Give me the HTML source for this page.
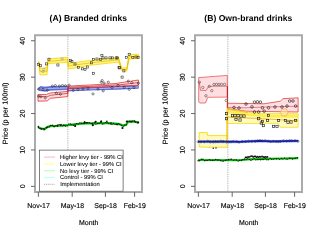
<!DOCTYPE html>
<html><head><meta charset="utf-8"><style>html,body{margin:0;padding:0;background:#fff;width:320px;height:236px;overflow:hidden}svg{display:block;will-change:transform;font-family:"Liberation Sans",sans-serif}text{stroke:#000;stroke-width:0.14px;paint-order:stroke}text[font-weight]{stroke-width:0}</style></head>
<body><svg width="320" height="236" viewBox="0 0 320 236" font-family="Liberation Sans, sans-serif" fill="#000"><line x1="67.9" y1="35.4" x2="67.9" y2="192.1" stroke="#999" stroke-width="0.75" stroke-dasharray="1 0.8"/><line x1="227.9" y1="35.4" x2="227.9" y2="192.1" stroke="#999" stroke-width="0.75" stroke-dasharray="1 0.8"/><polygon points="38.60,61.30 40.30,68.20 46.90,67.80 47.90,58.80 55.00,58.30 65.00,57.60 67.70,57.40 68.30,63.40 90.00,60.50 118.60,57.60 121.80,67.90 126.90,67.90 129.00,54.30 138.70,54.30 138.70,58.50 129.00,59.00 126.90,70.90 122.10,70.90 118.60,62.00 90.00,65.30 68.30,69.00 67.70,62.30 65.00,62.50 48.00,63.60 46.90,74.90 40.00,74.90 38.60,62.80" fill="rgba(255,238,20,0.5)" stroke="#f0d800" stroke-width="0.8" stroke-linejoin="round"/><polyline points="38.70,62.00 40.20,71.50 46.90,71.30 47.90,61.50 67.70,59.70 68.30,66.00 90.00,62.90 118.60,59.80 122.00,69.40 126.90,69.40 129.00,56.70 138.70,56.90" fill="none" stroke="#eeb000" stroke-width="0.7" stroke-linejoin="round" opacity="1"/><polygon points="37.50,89.20 40.10,86.60 45.20,87.10 50.30,86.60 67.70,86.00 68.10,88.20 93.00,87.60 120.00,86.30 138.40,85.70 138.40,88.30 120.00,89.20 93.00,90.00 68.10,91.00 67.70,89.60 50.30,90.20 45.20,91.20 40.10,90.70 37.50,89.40" fill="rgba(50,70,215,0.72)" stroke="#2030b0" stroke-width="0.5" stroke-linejoin="round"/><polyline points="38.00,89.00 45.00,89.20 50.30,88.40 67.70,87.80 68.10,89.60 93.00,88.80 120.00,87.70 138.40,87.00" fill="none" stroke="#e0e4ff" stroke-width="0.6" stroke-linejoin="round" opacity="1"/><polygon points="38.00,94.40 46.20,94.60 50.30,93.00 67.70,91.40 68.10,86.10 90.00,85.00 115.00,83.60 138.40,80.00 138.40,85.20 115.00,86.40 90.00,87.40 68.10,88.60 67.70,96.60 50.30,98.30 47.20,100.90 38.00,101.20" fill="rgba(255,90,110,0.2)" stroke="#e02828" stroke-width="0.75" stroke-linejoin="round"/><polyline points="38.00,96.30 47.20,96.80 50.30,95.30 67.70,93.40 68.10,87.30 93.00,86.20 120.00,84.80 138.40,82.60" fill="none" stroke="#b00000" stroke-width="0.6" stroke-linejoin="round" opacity="1"/><polyline points="38.30,127.20 40.60,128.30 42.50,128.80 44.60,129.00 47.50,126.90 50.00,126.20 55.00,126.00 60.00,125.60 65.00,125.30 72.40,124.60 81.70,123.70 87.40,123.20 93.00,123.70 99.40,123.20 108.70,123.20 115.00,123.70 119.70,124.20 123.40,125.60 126.20,124.70 128.10,121.80 133.70,121.40 138.40,122.50" fill="none" stroke="#00c800" stroke-width="2.2" stroke-linejoin="round" opacity="1"/><circle cx="38.30" cy="126.54" r="0.7" fill="#111"/><circle cx="39.90" cy="128.59" r="0.7" fill="#111"/><circle cx="41.50" cy="129.01" r="0.7" fill="#111"/><circle cx="43.10" cy="128.42" r="0.7" fill="#111"/><circle cx="44.70" cy="128.92" r="0.7" fill="#111"/><circle cx="46.30" cy="127.68" r="0.7" fill="#111"/><circle cx="47.90" cy="127.06" r="0.7" fill="#111"/><circle cx="49.50" cy="126.86" r="0.7" fill="#111"/><circle cx="51.10" cy="125.42" r="0.7" fill="#111"/><circle cx="52.70" cy="125.24" r="0.7" fill="#111"/><circle cx="54.30" cy="126.63" r="0.7" fill="#111"/><circle cx="55.90" cy="125.81" r="0.7" fill="#111"/><circle cx="57.50" cy="126.27" r="0.7" fill="#111"/><circle cx="59.10" cy="124.78" r="0.7" fill="#111"/><circle cx="60.70" cy="125.46" r="0.7" fill="#111"/><circle cx="62.30" cy="125.86" r="0.7" fill="#111"/><circle cx="63.90" cy="124.88" r="0.7" fill="#111"/><circle cx="65.50" cy="126.05" r="0.7" fill="#111"/><circle cx="67.10" cy="125.82" r="0.7" fill="#111"/><circle cx="68.70" cy="124.11" r="0.7" fill="#111"/><circle cx="70.30" cy="123.94" r="0.7" fill="#111"/><circle cx="71.90" cy="124.72" r="0.7" fill="#111"/><circle cx="73.50" cy="125.28" r="0.7" fill="#111"/><circle cx="75.10" cy="124.12" r="0.7" fill="#111"/><circle cx="76.70" cy="123.67" r="0.7" fill="#111"/><circle cx="78.30" cy="123.89" r="0.7" fill="#111"/><circle cx="79.90" cy="123.03" r="0.7" fill="#111"/><circle cx="81.50" cy="123.22" r="0.7" fill="#111"/><circle cx="83.10" cy="123.47" r="0.7" fill="#111"/><circle cx="84.70" cy="123.43" r="0.7" fill="#111"/><circle cx="86.30" cy="122.82" r="0.7" fill="#111"/><circle cx="87.90" cy="122.76" r="0.7" fill="#111"/><circle cx="89.50" cy="122.88" r="0.7" fill="#111"/><circle cx="91.10" cy="123.46" r="0.7" fill="#111"/><circle cx="92.70" cy="123.29" r="0.7" fill="#111"/><circle cx="94.30" cy="122.74" r="0.7" fill="#111"/><circle cx="95.90" cy="124.08" r="0.7" fill="#111"/><circle cx="97.50" cy="123.45" r="0.7" fill="#111"/><circle cx="99.10" cy="123.48" r="0.7" fill="#111"/><circle cx="100.70" cy="122.63" r="0.7" fill="#111"/><circle cx="102.30" cy="124.09" r="0.7" fill="#111"/><circle cx="103.90" cy="123.85" r="0.7" fill="#111"/><circle cx="105.50" cy="122.52" r="0.7" fill="#111"/><circle cx="107.10" cy="122.90" r="0.7" fill="#111"/><circle cx="108.70" cy="123.60" r="0.7" fill="#111"/><circle cx="110.30" cy="123.71" r="0.7" fill="#111"/><circle cx="111.90" cy="124.24" r="0.7" fill="#111"/><circle cx="113.50" cy="123.44" r="0.7" fill="#111"/><circle cx="115.10" cy="124.30" r="0.7" fill="#111"/><circle cx="116.70" cy="124.19" r="0.7" fill="#111"/><circle cx="118.30" cy="123.70" r="0.7" fill="#111"/><circle cx="119.90" cy="124.43" r="0.7" fill="#111"/><circle cx="121.50" cy="125.57" r="0.7" fill="#111"/><circle cx="123.10" cy="126.11" r="0.7" fill="#111"/><circle cx="124.70" cy="125.19" r="0.7" fill="#111"/><circle cx="126.30" cy="124.71" r="0.7" fill="#111"/><circle cx="127.90" cy="121.27" r="0.7" fill="#111"/><circle cx="129.50" cy="121.24" r="0.7" fill="#111"/><circle cx="131.10" cy="122.12" r="0.7" fill="#111"/><circle cx="132.70" cy="121.32" r="0.7" fill="#111"/><circle cx="134.30" cy="120.95" r="0.7" fill="#111"/><circle cx="135.90" cy="122.00" r="0.7" fill="#111"/><circle cx="137.50" cy="122.65" r="0.7" fill="#111"/><circle cx="126.80" cy="121.60" r="1.0" fill="#111"/><circle cx="138.20" cy="122.60" r="1.0" fill="#111"/><circle cx="122.50" cy="128.00" r="1.0" fill="#111"/><circle cx="95.60" cy="121.80" r="1.0" fill="#111"/><circle cx="92.80" cy="125.30" r="1.0" fill="#111"/><circle cx="101.20" cy="121.40" r="1.0" fill="#111"/><circle cx="84.60" cy="122.30" r="1.0" fill="#111"/><circle cx="75.20" cy="126.00" r="1.0" fill="#111"/><polygon points="198.70,77.60 227.30,75.40 227.30,97.10 207.80,97.30 205.50,103.00 199.70,103.00 198.70,102.00" fill="rgba(255,90,110,0.2)" stroke="#e02828" stroke-width="0.6" stroke-linejoin="round"/><polyline points="199.30,81.90 200.40,90.30 206.10,90.50 208.60,86.30 226.40,86.20 227.40,86.20" fill="none" stroke="#b00000" stroke-width="0.6" stroke-linejoin="round" opacity="0.75"/><polyline points="227.40,86.20 227.40,107.30" fill="none" stroke="#b00000" stroke-width="0.8" stroke-linejoin="round" opacity="1"/><polygon points="227.30,103.20 264.00,103.80 280.30,101.20 282.90,98.70 298.10,97.80 298.10,112.00 264.00,111.50 246.00,111.20 227.30,108.70" fill="rgba(255,90,110,0.2)" stroke="#e02828" stroke-width="0.7" stroke-linejoin="round"/><polyline points="227.30,107.50 246.00,107.80 264.00,107.00 298.10,106.20" fill="none" stroke="#b02030" stroke-width="0.6" stroke-linejoin="round" opacity="0.8"/><polygon points="199.10,132.60 207.20,132.60 207.70,135.60 227.30,135.60 227.30,147.30 207.20,147.30 199.10,146.80" fill="rgba(255,240,60,0.34)" stroke="#f0d800" stroke-width="0.8" stroke-linejoin="round"/><polygon points="227.30,108.70 248.00,112.30 265.00,113.60 298.10,113.70 298.10,127.30 280.50,127.30 278.00,123.30 227.30,123.50" fill="rgba(255,240,60,0.32)" stroke="#f0d800" stroke-width="0.7" stroke-linejoin="round"/><polyline points="227.80,111.50 248.00,114.50 265.00,115.80 298.10,116.20" fill="none" stroke="rgba(250,225,0,0.55)" stroke-width="3.2" stroke-linejoin="round" opacity="1"/><polyline points="227.30,109.30 248.00,112.60" fill="none" stroke="#f0a000" stroke-width="0.5" stroke-linejoin="round" opacity="1"/><polyline points="199.00,141.20 227.10,141.20 227.10,117.00 248.00,118.00 260.00,118.60 298.10,120.80" fill="none" stroke="#f0a800" stroke-width="0.8" stroke-linejoin="round" opacity="1"/><polyline points="227.10,110.00 227.10,141.00" fill="none" stroke="#f0d000" stroke-width="1.0" stroke-linejoin="round" opacity="1"/><polyline points="198.00,141.60 227.00,141.70 240.00,141.80 258.80,140.90 271.90,141.40 298.30,140.90" fill="none" stroke="#8090f0" stroke-width="3.0" stroke-linejoin="round" opacity="0.6"/><polyline points="198.00,141.60 227.00,141.70 240.00,141.80 258.80,140.90 271.90,141.40 298.30,140.90" fill="none" stroke="#1428c0" stroke-width="1.7" stroke-linejoin="round" opacity="1"/><circle cx="198.00" cy="141.72" r="1.0" fill="none" stroke="#1a1a50" stroke-width="0.45"/><circle cx="201.06" cy="141.91" r="1.0" fill="none" stroke="#1a1a50" stroke-width="0.45"/><circle cx="204.39" cy="141.86" r="1.0" fill="none" stroke="#1a1a50" stroke-width="0.45"/><circle cx="207.69" cy="141.16" r="1.0" fill="none" stroke="#1a1a50" stroke-width="0.45"/><circle cx="210.39" cy="142.09" r="1.0" fill="none" stroke="#1a1a50" stroke-width="0.45"/><circle cx="213.34" cy="142.05" r="1.0" fill="none" stroke="#1a1a50" stroke-width="0.45"/><circle cx="215.58" cy="141.63" r="1.0" fill="none" stroke="#1a1a50" stroke-width="0.45"/><circle cx="218.01" cy="141.71" r="1.0" fill="none" stroke="#1a1a50" stroke-width="0.45"/><circle cx="220.85" cy="141.19" r="1.0" fill="none" stroke="#1a1a50" stroke-width="0.45"/><circle cx="223.23" cy="141.47" r="1.0" fill="none" stroke="#1a1a50" stroke-width="0.45"/><circle cx="226.52" cy="141.96" r="1.0" fill="none" stroke="#1a1a50" stroke-width="0.45"/><circle cx="228.83" cy="142.01" r="1.0" fill="none" stroke="#1a1a50" stroke-width="0.45"/><circle cx="231.11" cy="141.85" r="1.0" fill="none" stroke="#1a1a50" stroke-width="0.45"/><circle cx="233.38" cy="141.25" r="1.0" fill="none" stroke="#1a1a50" stroke-width="0.45"/><circle cx="236.61" cy="141.48" r="1.0" fill="none" stroke="#1a1a50" stroke-width="0.45"/><circle cx="238.99" cy="142.27" r="1.0" fill="none" stroke="#1a1a50" stroke-width="0.45"/><circle cx="242.22" cy="141.48" r="1.0" fill="none" stroke="#1a1a50" stroke-width="0.45"/><circle cx="245.57" cy="141.57" r="1.0" fill="none" stroke="#1a1a50" stroke-width="0.45"/><circle cx="248.56" cy="141.10" r="1.0" fill="none" stroke="#1a1a50" stroke-width="0.45"/><circle cx="251.88" cy="141.42" r="1.0" fill="none" stroke="#1a1a50" stroke-width="0.45"/><circle cx="255.23" cy="141.46" r="1.0" fill="none" stroke="#1a1a50" stroke-width="0.45"/><circle cx="257.72" cy="140.81" r="1.0" fill="none" stroke="#1a1a50" stroke-width="0.45"/><circle cx="260.04" cy="140.59" r="1.0" fill="none" stroke="#1a1a50" stroke-width="0.45"/><circle cx="262.22" cy="140.83" r="1.0" fill="none" stroke="#1a1a50" stroke-width="0.45"/><circle cx="265.11" cy="140.64" r="1.0" fill="none" stroke="#1a1a50" stroke-width="0.45"/><circle cx="268.09" cy="141.09" r="1.0" fill="none" stroke="#1a1a50" stroke-width="0.45"/><circle cx="270.59" cy="141.67" r="1.0" fill="none" stroke="#1a1a50" stroke-width="0.45"/><circle cx="273.32" cy="141.19" r="1.0" fill="none" stroke="#1a1a50" stroke-width="0.45"/><circle cx="276.04" cy="141.53" r="1.0" fill="none" stroke="#1a1a50" stroke-width="0.45"/><circle cx="278.22" cy="141.76" r="1.0" fill="none" stroke="#1a1a50" stroke-width="0.45"/><circle cx="280.35" cy="141.49" r="1.0" fill="none" stroke="#1a1a50" stroke-width="0.45"/><circle cx="283.54" cy="140.70" r="1.0" fill="none" stroke="#1a1a50" stroke-width="0.45"/><circle cx="286.67" cy="140.99" r="1.0" fill="none" stroke="#1a1a50" stroke-width="0.45"/><circle cx="289.52" cy="140.58" r="1.0" fill="none" stroke="#1a1a50" stroke-width="0.45"/><circle cx="291.68" cy="140.71" r="1.0" fill="none" stroke="#1a1a50" stroke-width="0.45"/><circle cx="295.02" cy="140.66" r="1.0" fill="none" stroke="#1a1a50" stroke-width="0.45"/><circle cx="298.11" cy="141.33" r="1.0" fill="none" stroke="#1a1a50" stroke-width="0.45"/><polyline points="198.10,160.00 240.00,160.20 250.00,159.30 270.00,158.80 283.00,158.50 298.30,158.10" fill="none" stroke="#00c800" stroke-width="2.1" stroke-linejoin="round" opacity="1"/><circle cx="198.10" cy="160.82" r="0.7" fill="#111"/><circle cx="199.70" cy="160.81" r="0.7" fill="#111"/><circle cx="201.30" cy="159.22" r="0.7" fill="#111"/><circle cx="202.90" cy="159.28" r="0.7" fill="#111"/><circle cx="204.50" cy="160.63" r="0.7" fill="#111"/><circle cx="206.10" cy="160.46" r="0.7" fill="#111"/><circle cx="207.70" cy="160.35" r="0.7" fill="#111"/><circle cx="209.30" cy="159.71" r="0.7" fill="#111"/><circle cx="210.90" cy="160.25" r="0.7" fill="#111"/><circle cx="212.50" cy="160.26" r="0.7" fill="#111"/><circle cx="214.10" cy="160.22" r="0.7" fill="#111"/><circle cx="215.70" cy="159.47" r="0.7" fill="#111"/><circle cx="217.30" cy="159.97" r="0.7" fill="#111"/><circle cx="218.90" cy="159.91" r="0.7" fill="#111"/><circle cx="220.50" cy="160.51" r="0.7" fill="#111"/><circle cx="222.10" cy="161.01" r="0.7" fill="#111"/><circle cx="223.70" cy="160.93" r="0.7" fill="#111"/><circle cx="225.30" cy="160.21" r="0.7" fill="#111"/><circle cx="226.90" cy="160.04" r="0.7" fill="#111"/><circle cx="228.50" cy="159.73" r="0.7" fill="#111"/><circle cx="230.10" cy="159.32" r="0.7" fill="#111"/><circle cx="231.70" cy="159.31" r="0.7" fill="#111"/><circle cx="233.30" cy="160.10" r="0.7" fill="#111"/><circle cx="234.90" cy="159.85" r="0.7" fill="#111"/><circle cx="236.50" cy="159.97" r="0.7" fill="#111"/><circle cx="238.10" cy="160.90" r="0.7" fill="#111"/><circle cx="239.70" cy="160.24" r="0.7" fill="#111"/><circle cx="241.30" cy="160.19" r="0.7" fill="#111"/><circle cx="242.90" cy="159.46" r="0.7" fill="#111"/><circle cx="244.50" cy="158.94" r="0.7" fill="#111"/><circle cx="246.10" cy="159.34" r="0.7" fill="#111"/><circle cx="247.70" cy="158.85" r="0.7" fill="#111"/><circle cx="249.30" cy="159.38" r="0.7" fill="#111"/><circle cx="250.90" cy="160.18" r="0.7" fill="#111"/><circle cx="252.50" cy="159.55" r="0.7" fill="#111"/><circle cx="254.10" cy="158.62" r="0.7" fill="#111"/><circle cx="255.70" cy="159.87" r="0.7" fill="#111"/><circle cx="257.30" cy="159.65" r="0.7" fill="#111"/><circle cx="258.90" cy="159.50" r="0.7" fill="#111"/><circle cx="260.50" cy="159.77" r="0.7" fill="#111"/><circle cx="262.10" cy="159.47" r="0.7" fill="#111"/><circle cx="263.70" cy="159.48" r="0.7" fill="#111"/><circle cx="265.30" cy="158.65" r="0.7" fill="#111"/><circle cx="266.90" cy="159.74" r="0.7" fill="#111"/><circle cx="268.50" cy="159.67" r="0.7" fill="#111"/><circle cx="270.10" cy="158.19" r="0.7" fill="#111"/><circle cx="271.70" cy="159.22" r="0.7" fill="#111"/><circle cx="273.30" cy="159.11" r="0.7" fill="#111"/><circle cx="274.90" cy="158.62" r="0.7" fill="#111"/><circle cx="276.50" cy="158.70" r="0.7" fill="#111"/><circle cx="278.10" cy="158.60" r="0.7" fill="#111"/><circle cx="279.70" cy="159.34" r="0.7" fill="#111"/><circle cx="281.30" cy="158.54" r="0.7" fill="#111"/><circle cx="282.90" cy="159.10" r="0.7" fill="#111"/><circle cx="284.50" cy="158.20" r="0.7" fill="#111"/><circle cx="286.10" cy="159.11" r="0.7" fill="#111"/><circle cx="287.70" cy="159.10" r="0.7" fill="#111"/><circle cx="289.30" cy="158.27" r="0.7" fill="#111"/><circle cx="290.90" cy="158.42" r="0.7" fill="#111"/><circle cx="292.50" cy="159.01" r="0.7" fill="#111"/><circle cx="294.10" cy="158.61" r="0.7" fill="#111"/><circle cx="295.70" cy="158.14" r="0.7" fill="#111"/><circle cx="297.30" cy="157.63" r="0.7" fill="#111"/><circle cx="245.50" cy="157.34" r="0.85" fill="#111"/><circle cx="246.60" cy="157.40" r="0.85" fill="#111"/><circle cx="247.70" cy="156.98" r="0.85" fill="#111"/><circle cx="248.80" cy="156.97" r="0.85" fill="#111"/><circle cx="249.90" cy="156.75" r="0.85" fill="#111"/><circle cx="251.00" cy="156.18" r="0.85" fill="#111"/><circle cx="252.10" cy="156.14" r="0.85" fill="#111"/><circle cx="253.20" cy="156.97" r="0.85" fill="#111"/><circle cx="254.30" cy="156.41" r="0.85" fill="#111"/><circle cx="255.40" cy="156.39" r="0.85" fill="#111"/><circle cx="256.50" cy="157.17" r="0.85" fill="#111"/><circle cx="257.60" cy="156.65" r="0.85" fill="#111"/><circle cx="258.70" cy="157.03" r="0.85" fill="#111"/><circle cx="259.80" cy="156.69" r="0.85" fill="#111"/><circle cx="260.90" cy="156.86" r="0.85" fill="#111"/><circle cx="262.00" cy="156.38" r="0.85" fill="#111"/><circle cx="263.10" cy="156.88" r="0.85" fill="#111"/><circle cx="264.20" cy="157.13" r="0.85" fill="#111"/><circle cx="265.30" cy="156.79" r="0.85" fill="#111"/><circle cx="266.40" cy="157.02" r="0.85" fill="#111"/><circle cx="267.50" cy="156.97" r="0.85" fill="#111"/><polygon points="282.2,108.9 286.2,108.9 288.1,112.4 286.2,115.9 282.2,115.9 280.3,112.4" fill="rgba(255,235,170,0.5)" stroke="#f4b050" stroke-width="0.8" stroke-linejoin="round"/><rect x="42.90" y="68.40" width="2.0" height="2.0" fill="none" stroke="#999" stroke-width="0.5"/><rect x="42.00" y="70.60" width="2.0" height="2.0" fill="none" stroke="#999" stroke-width="0.5"/><rect x="61.10" y="57.90" width="2.0" height="2.0" fill="none" stroke="#999" stroke-width="0.5"/><rect x="37.25" y="63.25" width="2.1" height="2.1" fill="none" stroke="#222" stroke-width="0.55"/><rect x="39.55" y="64.65" width="2.1" height="2.1" fill="none" stroke="#222" stroke-width="0.55"/><rect x="45.55" y="62.85" width="2.1" height="2.1" fill="none" stroke="#222" stroke-width="0.55"/><rect x="47.95" y="58.15" width="2.1" height="2.1" fill="none" stroke="#222" stroke-width="0.55"/><rect x="56.85" y="63.95" width="2.1" height="2.1" fill="none" stroke="#222" stroke-width="0.55"/><rect x="69.55" y="59.65" width="2.1" height="2.1" fill="none" stroke="#222" stroke-width="0.55"/><rect x="70.85" y="60.55" width="2.1" height="2.1" fill="none" stroke="#222" stroke-width="0.55"/><rect x="73.95" y="62.95" width="2.1" height="2.1" fill="none" stroke="#222" stroke-width="0.55"/><rect x="77.35" y="66.55" width="2.1" height="2.1" fill="none" stroke="#222" stroke-width="0.55"/><rect x="81.55" y="67.75" width="2.1" height="2.1" fill="none" stroke="#222" stroke-width="0.55"/><rect x="83.95" y="68.35" width="2.1" height="2.1" fill="none" stroke="#222" stroke-width="0.55"/><rect x="86.25" y="65.95" width="2.1" height="2.1" fill="none" stroke="#222" stroke-width="0.55"/><rect x="90.45" y="61.75" width="2.1" height="2.1" fill="none" stroke="#222" stroke-width="0.55"/><rect x="92.45" y="58.55" width="2.1" height="2.1" fill="none" stroke="#222" stroke-width="0.55"/><rect x="95.95" y="57.95" width="2.1" height="2.1" fill="none" stroke="#222" stroke-width="0.55"/><rect x="99.65" y="58.55" width="2.1" height="2.1" fill="none" stroke="#222" stroke-width="0.55"/><rect x="100.85" y="54.45" width="2.1" height="2.1" fill="none" stroke="#222" stroke-width="0.55"/><rect x="101.95" y="56.85" width="2.1" height="2.1" fill="none" stroke="#222" stroke-width="0.55"/><rect x="104.95" y="56.85" width="2.1" height="2.1" fill="none" stroke="#222" stroke-width="0.55"/><rect x="108.95" y="56.85" width="2.1" height="2.1" fill="none" stroke="#222" stroke-width="0.55"/><rect x="111.45" y="56.85" width="2.1" height="2.1" fill="none" stroke="#222" stroke-width="0.55"/><rect x="116.25" y="56.85" width="2.1" height="2.1" fill="none" stroke="#222" stroke-width="0.55"/><rect x="117.95" y="66.35" width="2.1" height="2.1" fill="none" stroke="#222" stroke-width="0.55"/><rect x="92.45" y="72.25" width="2.1" height="2.1" fill="none" stroke="#222" stroke-width="0.55"/><rect x="115.15" y="56.85" width="2.1" height="2.1" fill="none" stroke="#222" stroke-width="0.55"/><rect x="118.65" y="66.85" width="2.1" height="2.1" fill="none" stroke="#222" stroke-width="0.55"/><rect x="122.85" y="69.85" width="2.1" height="2.1" fill="none" stroke="#222" stroke-width="0.55"/><rect x="125.25" y="56.25" width="2.1" height="2.1" fill="none" stroke="#222" stroke-width="0.55"/><rect x="128.15" y="53.25" width="2.1" height="2.1" fill="none" stroke="#222" stroke-width="0.55"/><rect x="131.75" y="56.25" width="2.1" height="2.1" fill="none" stroke="#222" stroke-width="0.55"/><rect x="134.95" y="55.95" width="2.1" height="2.1" fill="none" stroke="#222" stroke-width="0.55"/><rect x="137.05" y="56.25" width="2.1" height="2.1" fill="none" stroke="#222" stroke-width="0.55"/><rect x="121.05" y="76.05" width="2.1" height="2.1" fill="none" stroke="#222" stroke-width="0.55"/><circle cx="38.60" cy="96.30" r="1.1" fill="none" stroke="#222" stroke-width="0.55"/><circle cx="41.00" cy="96.80" r="1.1" fill="none" stroke="#222" stroke-width="0.55"/><circle cx="45.20" cy="97.80" r="1.1" fill="none" stroke="#222" stroke-width="0.55"/><circle cx="47.20" cy="90.20" r="1.1" fill="none" stroke="#222" stroke-width="0.55"/><circle cx="52.30" cy="86.10" r="1.1" fill="none" stroke="#222" stroke-width="0.55"/><circle cx="55.30" cy="85.60" r="1.1" fill="none" stroke="#222" stroke-width="0.55"/><circle cx="59.40" cy="86.10" r="1.1" fill="none" stroke="#222" stroke-width="0.55"/><circle cx="62.50" cy="85.60" r="1.1" fill="none" stroke="#222" stroke-width="0.55"/><circle cx="65.50" cy="85.80" r="1.1" fill="none" stroke="#222" stroke-width="0.55"/><circle cx="56.40" cy="93.20" r="1.1" fill="none" stroke="#222" stroke-width="0.55"/><circle cx="60.40" cy="94.20" r="1.1" fill="none" stroke="#222" stroke-width="0.55"/><circle cx="39.00" cy="89.00" r="1.1" fill="none" stroke="#222" stroke-width="0.55"/><circle cx="43.00" cy="89.50" r="1.1" fill="none" stroke="#222" stroke-width="0.55"/><circle cx="69.10" cy="85.20" r="1.1" fill="none" stroke="#222" stroke-width="0.55"/><circle cx="73.20" cy="90.30" r="1.1" fill="none" stroke="#222" stroke-width="0.55"/><circle cx="78.00" cy="89.50" r="1.1" fill="none" stroke="#222" stroke-width="0.55"/><circle cx="83.00" cy="89.00" r="1.1" fill="none" stroke="#222" stroke-width="0.55"/><circle cx="88.00" cy="88.50" r="1.1" fill="none" stroke="#222" stroke-width="0.55"/><circle cx="102.20" cy="80.60" r="1.1" fill="none" stroke="#222" stroke-width="0.55"/><circle cx="101.20" cy="82.20" r="1.1" fill="none" stroke="#222" stroke-width="0.55"/><circle cx="104.00" cy="83.00" r="1.1" fill="none" stroke="#222" stroke-width="0.55"/><circle cx="108.30" cy="82.20" r="1.1" fill="none" stroke="#222" stroke-width="0.55"/><circle cx="103.20" cy="90.80" r="1.1" fill="none" stroke="#222" stroke-width="0.55"/><circle cx="98.00" cy="89.00" r="1.1" fill="none" stroke="#222" stroke-width="0.55"/><circle cx="112.00" cy="87.50" r="1.1" fill="none" stroke="#222" stroke-width="0.55"/><circle cx="93.00" cy="93.90" r="1.1" fill="none" stroke="#222" stroke-width="0.55"/><circle cx="128.20" cy="81.20" r="1.1" fill="none" stroke="#222" stroke-width="0.55"/><circle cx="131.80" cy="82.70" r="1.1" fill="none" stroke="#222" stroke-width="0.55"/><circle cx="124.20" cy="87.30" r="1.1" fill="none" stroke="#222" stroke-width="0.55"/><circle cx="129.20" cy="89.30" r="1.1" fill="none" stroke="#222" stroke-width="0.55"/><circle cx="138.40" cy="83.20" r="1.1" fill="none" stroke="#222" stroke-width="0.55"/><circle cx="134.00" cy="87.50" r="1.1" fill="none" stroke="#222" stroke-width="0.55"/><circle cx="118.00" cy="85.50" r="1.1" fill="none" stroke="#222" stroke-width="0.55"/><circle cx="38.50" cy="127.50" r="0.8" fill="#111"/><circle cx="41.00" cy="128.80" r="0.8" fill="#111"/><circle cx="44.00" cy="129.80" r="0.8" fill="#111"/><circle cx="47.00" cy="127.50" r="0.8" fill="#111"/><circle cx="50.50" cy="125.50" r="0.8" fill="#111"/><circle cx="54.00" cy="126.50" r="0.8" fill="#111"/><circle cx="57.50" cy="125.20" r="0.8" fill="#111"/><circle cx="61.00" cy="124.60" r="0.8" fill="#111"/><circle cx="64.00" cy="125.50" r="0.8" fill="#111"/><circle cx="75.20" cy="126.00" r="0.8" fill="#111"/><circle cx="84.60" cy="122.30" r="0.8" fill="#111"/><circle cx="87.00" cy="122.80" r="0.8" fill="#111"/><circle cx="92.80" cy="125.10" r="0.8" fill="#111"/><circle cx="95.60" cy="121.80" r="0.8" fill="#111"/><circle cx="101.20" cy="121.40" r="0.8" fill="#111"/><circle cx="106.90" cy="121.40" r="0.8" fill="#111"/><circle cx="111.00" cy="123.00" r="0.8" fill="#111"/><circle cx="117.20" cy="124.70" r="0.8" fill="#111"/><circle cx="122.50" cy="128.00" r="0.8" fill="#111"/><circle cx="127.20" cy="121.80" r="0.8" fill="#111"/><circle cx="131.00" cy="121.40" r="0.8" fill="#111"/><circle cx="135.00" cy="121.80" r="0.8" fill="#111"/><circle cx="138.00" cy="122.50" r="0.8" fill="#111"/><circle cx="199.40" cy="82.20" r="1.2" fill="none" stroke="#444" stroke-width="0.55"/><circle cx="202.80" cy="87.50" r="1.2" fill="none" stroke="#444" stroke-width="0.55"/><circle cx="209.30" cy="86.40" r="1.2" fill="none" stroke="#444" stroke-width="0.55"/><circle cx="211.80" cy="90.70" r="1.2" fill="none" stroke="#444" stroke-width="0.55"/><circle cx="205.90" cy="95.80" r="1.2" fill="none" stroke="#444" stroke-width="0.55"/><circle cx="214.00" cy="84.40" r="1.2" fill="none" stroke="#444" stroke-width="0.55"/><circle cx="216.50" cy="84.40" r="1.2" fill="none" stroke="#444" stroke-width="0.55"/><circle cx="219.00" cy="84.40" r="1.2" fill="none" stroke="#444" stroke-width="0.55"/><circle cx="221.50" cy="84.40" r="1.2" fill="none" stroke="#444" stroke-width="0.55"/><circle cx="224.50" cy="84.40" r="1.2" fill="none" stroke="#444" stroke-width="0.55"/><circle cx="226.20" cy="100.50" r="1.2" fill="none" stroke="#444" stroke-width="0.55"/><circle cx="234.00" cy="107.50" r="1.3" fill="none" stroke="#111" stroke-width="0.6"/><circle cx="239.00" cy="108.00" r="1.3" fill="none" stroke="#111" stroke-width="0.6"/><circle cx="246.00" cy="104.00" r="1.3" fill="none" stroke="#111" stroke-width="0.6"/><circle cx="252.00" cy="106.90" r="1.3" fill="none" stroke="#111" stroke-width="0.6"/><circle cx="254.50" cy="102.10" r="1.3" fill="none" stroke="#111" stroke-width="0.6"/><circle cx="257.50" cy="101.80" r="1.3" fill="none" stroke="#111" stroke-width="0.6"/><circle cx="260.40" cy="102.10" r="1.3" fill="none" stroke="#111" stroke-width="0.6"/><circle cx="262.50" cy="107.80" r="1.3" fill="none" stroke="#111" stroke-width="0.6"/><circle cx="268.50" cy="107.80" r="1.3" fill="none" stroke="#111" stroke-width="0.6"/><circle cx="275.00" cy="107.00" r="1.3" fill="none" stroke="#111" stroke-width="0.6"/><circle cx="282.00" cy="107.00" r="1.3" fill="none" stroke="#111" stroke-width="0.6"/><circle cx="287.00" cy="106.10" r="1.3" fill="none" stroke="#111" stroke-width="0.6"/><circle cx="289.70" cy="101.00" r="1.3" fill="none" stroke="#111" stroke-width="0.6"/><circle cx="293.00" cy="101.00" r="1.3" fill="none" stroke="#111" stroke-width="0.6"/><circle cx="295.60" cy="106.10" r="1.3" fill="none" stroke="#111" stroke-width="0.6"/><circle cx="264.20" cy="111.20" r="1.3" fill="none" stroke="#111" stroke-width="0.6"/><circle cx="254.50" cy="112.00" r="1.3" fill="none" stroke="#111" stroke-width="0.6"/><circle cx="258.70" cy="112.00" r="1.3" fill="none" stroke="#111" stroke-width="0.6"/><rect x="225.35" y="112.45" width="2.3" height="2.3" fill="none" stroke="#111" stroke-width="0.6"/><rect x="225.35" y="117.55" width="2.3" height="2.3" fill="none" stroke="#111" stroke-width="0.6"/><rect x="231.35" y="114.55" width="2.3" height="2.3" fill="none" stroke="#111" stroke-width="0.6"/><rect x="233.85" y="114.55" width="2.3" height="2.3" fill="none" stroke="#111" stroke-width="0.6"/><rect x="236.85" y="114.55" width="2.3" height="2.3" fill="none" stroke="#111" stroke-width="0.6"/><rect x="239.85" y="114.85" width="2.3" height="2.3" fill="none" stroke="#111" stroke-width="0.6"/><rect x="242.85" y="114.85" width="2.3" height="2.3" fill="none" stroke="#111" stroke-width="0.6"/><rect x="234.85" y="118.35" width="2.3" height="2.3" fill="none" stroke="#111" stroke-width="0.6"/><rect x="238.85" y="118.85" width="2.3" height="2.3" fill="none" stroke="#111" stroke-width="0.6"/><rect x="257.55" y="117.55" width="2.3" height="2.3" fill="none" stroke="#111" stroke-width="0.6"/><rect x="260.15" y="121.85" width="2.3" height="2.3" fill="none" stroke="#111" stroke-width="0.6"/><rect x="267.35" y="114.25" width="2.3" height="2.3" fill="none" stroke="#111" stroke-width="0.6"/><rect x="261.35" y="120.25" width="2.3" height="2.3" fill="none" stroke="#111" stroke-width="0.6"/><rect x="266.45" y="119.35" width="2.3" height="2.3" fill="none" stroke="#111" stroke-width="0.6"/><rect x="262.25" y="124.45" width="2.3" height="2.3" fill="none" stroke="#111" stroke-width="0.6"/><rect x="272.45" y="125.25" width="2.3" height="2.3" fill="none" stroke="#111" stroke-width="0.6"/><rect x="275.85" y="125.25" width="2.3" height="2.3" fill="none" stroke="#111" stroke-width="0.6"/><rect x="277.45" y="119.35" width="2.3" height="2.3" fill="none" stroke="#111" stroke-width="0.6"/><rect x="284.25" y="119.35" width="2.3" height="2.3" fill="none" stroke="#111" stroke-width="0.6"/><rect x="286.85" y="121.05" width="2.3" height="2.3" fill="none" stroke="#111" stroke-width="0.6"/><rect x="294.45" y="119.35" width="2.3" height="2.3" fill="none" stroke="#111" stroke-width="0.6"/><rect x="289.85" y="120.85" width="2.3" height="2.3" fill="none" stroke="#111" stroke-width="0.6"/><circle cx="213.30" cy="148.30" r="0.7" fill="#111"/><circle cx="216.00" cy="148.00" r="0.7" fill="#111"/><g transform="matrix(1,0,0.002,1,-0.24,0)"><text x="88.5" y="20.75" font-size="8.6" font-weight="bold" text-anchor="middle">(A) Branded drinks</text></g><path d="M35,35.3H142V192H35Z" fill="none" stroke="#a8a8a8" stroke-width="1.9"/><line x1="31" y1="186.35" x2="35" y2="186.35" stroke="#666" stroke-width="1.0"/><g transform="matrix(1,0,0.002,1,-0.24,0)"><text transform="translate(24.8,186.35) rotate(-90)" font-size="7" text-anchor="middle">0</text></g><line x1="31" y1="149.95" x2="35" y2="149.95" stroke="#666" stroke-width="1.0"/><g transform="matrix(1,0,0.002,1,-0.24,0)"><text transform="translate(24.8,149.95) rotate(-90)" font-size="7" text-anchor="middle">10</text></g><line x1="31" y1="113.55" x2="35" y2="113.55" stroke="#666" stroke-width="1.0"/><g transform="matrix(1,0,0.002,1,-0.24,0)"><text transform="translate(24.8,113.55) rotate(-90)" font-size="7" text-anchor="middle">20</text></g><line x1="31" y1="77.15" x2="35" y2="77.15" stroke="#666" stroke-width="1.0"/><g transform="matrix(1,0,0.002,1,-0.24,0)"><text transform="translate(24.8,77.15) rotate(-90)" font-size="7" text-anchor="middle">30</text></g><line x1="31" y1="40.75" x2="35" y2="40.75" stroke="#666" stroke-width="1.0"/><g transform="matrix(1,0,0.002,1,-0.24,0)"><text transform="translate(24.8,40.75) rotate(-90)" font-size="7" text-anchor="middle">40</text></g><line x1="38.4" y1="192" x2="38.4" y2="196.8" stroke="#666" stroke-width="1.0"/><g transform="matrix(1,0,0.002,1,-0.24,0)"><text x="38.4" y="208.2" font-size="7" text-anchor="middle">Nov-17</text></g><line x1="72.2" y1="192" x2="72.2" y2="196.8" stroke="#666" stroke-width="1.0"/><g transform="matrix(1,0,0.002,1,-0.24,0)"><text x="72.2" y="208.2" font-size="7" text-anchor="middle">May-18</text></g><line x1="105.4" y1="192" x2="105.4" y2="196.8" stroke="#666" stroke-width="1.0"/><g transform="matrix(1,0,0.002,1,-0.24,0)"><text x="105.4" y="208.2" font-size="7" text-anchor="middle">Sep-18</text></g><line x1="134.6" y1="192" x2="134.6" y2="196.8" stroke="#666" stroke-width="1.0"/><g transform="matrix(1,0,0.002,1,-0.24,0)"><text x="134.6" y="208.2" font-size="7" text-anchor="middle">Feb-19</text></g><g transform="matrix(1,0,0.002,1,-0.24,0)"><text x="88.5" y="224.8" font-size="7" text-anchor="middle">Month</text></g><g transform="matrix(1,0,0.002,1,-0.24,0)"><text transform="translate(7.6,113.5) rotate(-90)" font-size="7.25" text-anchor="middle">Price (p per 100ml)</text></g><g transform="matrix(1,0,0.002,1,-0.24,0)"><text x="248.5" y="20.75" font-size="8.6" font-weight="bold" text-anchor="middle">(B) Own-brand drinks</text></g><path d="M195,35.3H302V192H195Z" fill="none" stroke="#a8a8a8" stroke-width="1.9"/><line x1="191" y1="186.35" x2="195" y2="186.35" stroke="#666" stroke-width="1.0"/><g transform="matrix(1,0,0.002,1,-0.24,0)"><text transform="translate(184.8,186.35) rotate(-90)" font-size="7" text-anchor="middle">0</text></g><line x1="191" y1="149.95" x2="195" y2="149.95" stroke="#666" stroke-width="1.0"/><g transform="matrix(1,0,0.002,1,-0.24,0)"><text transform="translate(184.8,149.95) rotate(-90)" font-size="7" text-anchor="middle">10</text></g><line x1="191" y1="113.55" x2="195" y2="113.55" stroke="#666" stroke-width="1.0"/><g transform="matrix(1,0,0.002,1,-0.24,0)"><text transform="translate(184.8,113.55) rotate(-90)" font-size="7" text-anchor="middle">20</text></g><line x1="191" y1="77.15" x2="195" y2="77.15" stroke="#666" stroke-width="1.0"/><g transform="matrix(1,0,0.002,1,-0.24,0)"><text transform="translate(184.8,77.15) rotate(-90)" font-size="7" text-anchor="middle">30</text></g><line x1="191" y1="40.75" x2="195" y2="40.75" stroke="#666" stroke-width="1.0"/><g transform="matrix(1,0,0.002,1,-0.24,0)"><text transform="translate(184.8,40.75) rotate(-90)" font-size="7" text-anchor="middle">40</text></g><line x1="198.4" y1="192" x2="198.4" y2="196.8" stroke="#666" stroke-width="1.0"/><g transform="matrix(1,0,0.002,1,-0.24,0)"><text x="198.4" y="208.2" font-size="7" text-anchor="middle">Nov-17</text></g><line x1="232.2" y1="192" x2="232.2" y2="196.8" stroke="#666" stroke-width="1.0"/><g transform="matrix(1,0,0.002,1,-0.24,0)"><text x="232.2" y="208.2" font-size="7" text-anchor="middle">May-18</text></g><line x1="265.4" y1="192" x2="265.4" y2="196.8" stroke="#666" stroke-width="1.0"/><g transform="matrix(1,0,0.002,1,-0.24,0)"><text x="265.4" y="208.2" font-size="7" text-anchor="middle">Sep-18</text></g><line x1="294.6" y1="192" x2="294.6" y2="196.8" stroke="#666" stroke-width="1.0"/><g transform="matrix(1,0,0.002,1,-0.24,0)"><text x="294.6" y="208.2" font-size="7" text-anchor="middle">Feb-19</text></g><g transform="matrix(1,0,0.002,1,-0.24,0)"><text x="248.5" y="224.8" font-size="7" text-anchor="middle">Month</text></g><g transform="matrix(1,0,0.002,1,-0.24,0)"><text transform="translate(167.6,113.5) rotate(-90)" font-size="7.25" text-anchor="middle">Price (p per 100ml)</text></g><rect x="39.4" y="150.1" width="83.7" height="41.1" fill="#fff" stroke="#4a4a4a" stroke-width="0.7"/><line x1="44" y1="157.1" x2="55" y2="157.1" stroke="#ffc0cc" stroke-width="1.2"/><g transform="matrix(1,0,0.002,1,-0.24,0)"><text x="60" y="159.1" font-size="5.8" style="stroke-width:0.05px">Higher levy tier - 99% CI</text></g><line x1="44" y1="163.9" x2="55" y2="163.9" stroke="#ffff90" stroke-width="1.2"/><g transform="matrix(1,0,0.002,1,-0.24,0)"><text x="60" y="165.9" font-size="5.8" style="stroke-width:0.05px">Lower levy tier - 99% CI</text></g><line x1="44" y1="170.7" x2="55" y2="170.7" stroke="#c0ffc0" stroke-width="1.2"/><g transform="matrix(1,0,0.002,1,-0.24,0)"><text x="60" y="172.7" font-size="5.8" style="stroke-width:0.05px">No levy tier - 99% CI</text></g><line x1="44" y1="177.5" x2="55" y2="177.5" stroke="#c0ffff" stroke-width="1.2"/><g transform="matrix(1,0,0.002,1,-0.24,0)"><text x="60" y="179.5" font-size="5.8" style="stroke-width:0.05px">Control - 99% CI</text></g><line x1="44" y1="184.3" x2="55" y2="184.3" stroke="#777" stroke-width="0.65" stroke-dasharray="1 0.9"/><g transform="matrix(1,0,0.002,1,-0.24,0)"><text x="60" y="186.3" font-size="5.8" style="stroke-width:0.05px">Implementation</text></g></svg></body></html>
